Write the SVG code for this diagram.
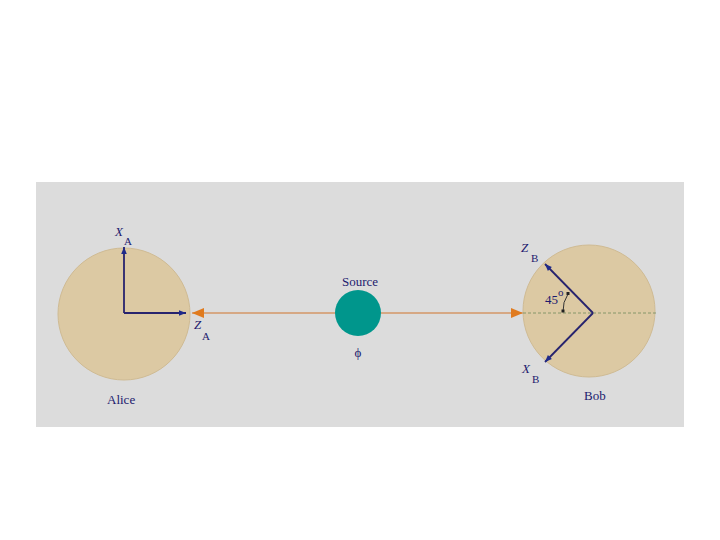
<svg xmlns="http://www.w3.org/2000/svg" width="720" height="540" viewBox="0 0 720 540">
<style>
.disk{fill:#dcc9a3;stroke:#cfbb94;stroke-width:1}
.axis{stroke:#27236e;stroke-width:1.8;fill:none}
.lbl{font-family:"Liberation Serif",serif;fill:#1c1a6e;font-size:13px}
.sub{font-family:"Liberation Serif",serif;fill:#1c1a6e;font-size:11px}
.beam{stroke:#d6a884;stroke-width:2;fill:none}
</style>
<defs>
<marker id="ax" viewBox="0 0 10 10" refX="10" refY="5" markerWidth="8" markerHeight="7" orient="auto" markerUnits="userSpaceOnUse">
<path d="M0,1 L10,5 L0,9 Z" fill="#1f2a8a"/>
</marker>
<marker id="ob" viewBox="0 0 12 10" refX="12" refY="5" markerWidth="12" markerHeight="10" orient="auto" markerUnits="userSpaceOnUse">
<path d="M0,0 L12,5 L0,10 Z" fill="#e07b1f"/>
</marker>
</defs>
<rect x="0" y="0" width="720" height="540" fill="#ffffff"/>
<rect x="36" y="182" width="648" height="245" fill="#dcdcdc"/>

<g id="connectors">
<line class="beam" x1="335" y1="313" x2="192" y2="313" marker-end="url(#ob)"/>
<line class="beam" x1="381" y1="313" x2="523" y2="313" marker-end="url(#ob)" stroke="#c98c5e"/>
</g>

<g id="alice">
<circle class="disk" cx="124" cy="314" r="66"/>
<line class="axis" x1="124" y1="313" x2="124" y2="247" marker-end="url(#ax)"/>
<line class="axis" x1="124" y1="313" x2="186" y2="313" marker-end="url(#ax)"/>
<text class="lbl" x="115" y="236" font-style="italic">X</text>
<text class="sub" x="124" y="245">A</text>
<text class="lbl" x="194" y="329" font-style="italic">Z</text>
<text class="sub" x="202" y="340">A</text>
<text class="lbl" x="107" y="404">Alice</text>
</g>

<g id="source">
<circle cx="358" cy="313" r="23" fill="#00968c"/>
<text class="lbl" x="360" y="286" text-anchor="middle">Source</text>
<text class="lbl" x="358" y="357" text-anchor="middle">ϕ</text>
</g>

<g id="bob">
<circle class="disk" cx="589" cy="311" r="66"/>
<line x1="523" y1="313" x2="656" y2="313" stroke="#6f8c5c" stroke-width="0.8" stroke-dasharray="3,2"/>
<line class="axis" x1="593" y1="313" x2="545" y2="264" marker-end="url(#ax)"/>
<line class="axis" x1="593" y1="313" x2="545" y2="362" marker-end="url(#ax)"/>
<path d="M568,294 A30,30 0 0 0 563,312" fill="none" stroke="#333" stroke-width="1"/>
<rect x="566.5" y="292" width="3" height="3" fill="#222"/>
<rect x="561.5" y="309.5" width="3" height="3" fill="#222"/>
<text class="lbl" x="545" y="304">45</text>
<text class="sub" x="558" y="296" font-size="8">o</text>
<text class="lbl" x="521" y="252" font-style="italic">Z</text>
<text class="sub" x="531" y="262">B</text>
<text class="lbl" x="522" y="373" font-style="italic">X</text>
<text class="sub" x="532" y="383">B</text>
<text class="lbl" x="584" y="400">Bob</text>
</g>
</svg>
